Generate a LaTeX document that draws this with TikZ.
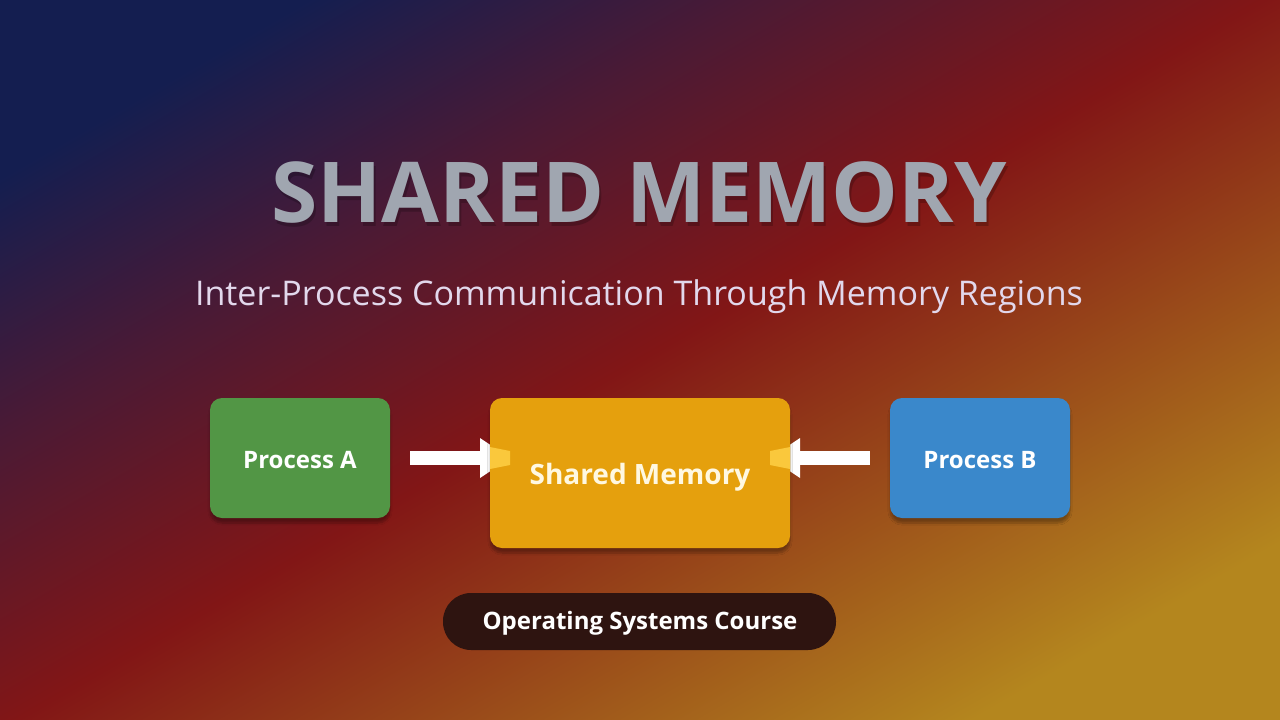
\documentclass[tikz,border=0pt]{standalone}
\usepackage{fontspec}
\setmainfont{Open Sans}
\usetikzlibrary{shadows.blur}
\definecolor{c1}{HTML}{141E50}
\definecolor{c1b}{HTML}{4A1A35}
\definecolor{c2}{HTML}{821616}
\definecolor{c3}{HTML}{B4861E}
\definecolor{cA}{RGB}{82,150,69}
\definecolor{cB}{RGB}{58,136,203}
\definecolor{cS}{RGB}{229,160,13}
\definecolor{cY}{RGB}{250,200,60}
\definecolor{cP}{RGB}{46,20,16}
\definecolor{cSub}{RGB}{226,216,236}
\definecolor{cT}{RGB}{160,166,176}
\definecolor{cSM}{RGB}{255,248,225}
\pgfdeclarehorizontalshading{bg}{100bp}{color(0bp)=(c1); color(24bp)=(c1); color(36bp)=(c1b); color(50bp)=(c2); color(76bp)=(c3); color(100bp)=(c3)}
\begin{document}
\begin{tikzpicture}[x=1pt,y=-1pt,
  box/.style={rounded corners=12pt, draw=none, blur shadow={shadow blur steps=8, shadow xshift=0pt, shadow yshift=-5pt, shadow opacity=30}},
  lbl/.style={text=white, font=\bfseries\fontsize{24}{30}\selectfont},
  arr/.style={fill=white, draw=none}]
\useasboundingbox (0,0) rectangle (1280,720);
\shade[shading=bg, shading angle=-60] (0,0) rectangle (1280,720);
\node[text=black, opacity=0.2, font=\bfseries\fontsize{84}{90}\selectfont] at (641,196) {SHARED MEMORY};
\node (title) [text=cT, font=\bfseries\fontsize{84}{90}\selectfont] at (639,192) {SHARED MEMORY};
\node (sub) [text=cSub, font=\fontsize{34}{40}\selectfont] at (639,297) {Inter-Process Communication Through Memory Regions};
\fill[box, fill=cA] (210,398) rectangle (390,518);
\fill[box, fill=cB] (890,398) rectangle (1070,518);
\node (pa) [lbl] at (300,460) {Process A};
\node (pb) [lbl] at (980,460) {Process B};
\fill[arr] (410,451) rectangle (482,465);
\fill[arr] (480,438) -- (510,458) -- (480,478) -- cycle;
\fill[arr] (798,451) rectangle (870,465);
\fill[arr] (800,438) -- (770,458) -- (800,478) -- cycle;
\fill[box, fill=cS] (490,398) rectangle (790,548);
\fill[cY] (490,447) -- (510,451) -- (510,465) -- (490,469) -- cycle;
\fill[cY] (790,447) -- (770,451) -- (770,465) -- (790,469) -- cycle;
\node (sm) [lbl, font=\bfseries\fontsize{28}{32}\selectfont, text=cSM] at (640,477) {Shared Memory};
\fill[cP, rounded corners=28pt] (443,593) rectangle (836,650);
\node (course) [lbl, font=\bfseries\fontsize{24}{30}\selectfont] at (640,623) {Operating Systems Course};
\end{tikzpicture}
\end{document}
